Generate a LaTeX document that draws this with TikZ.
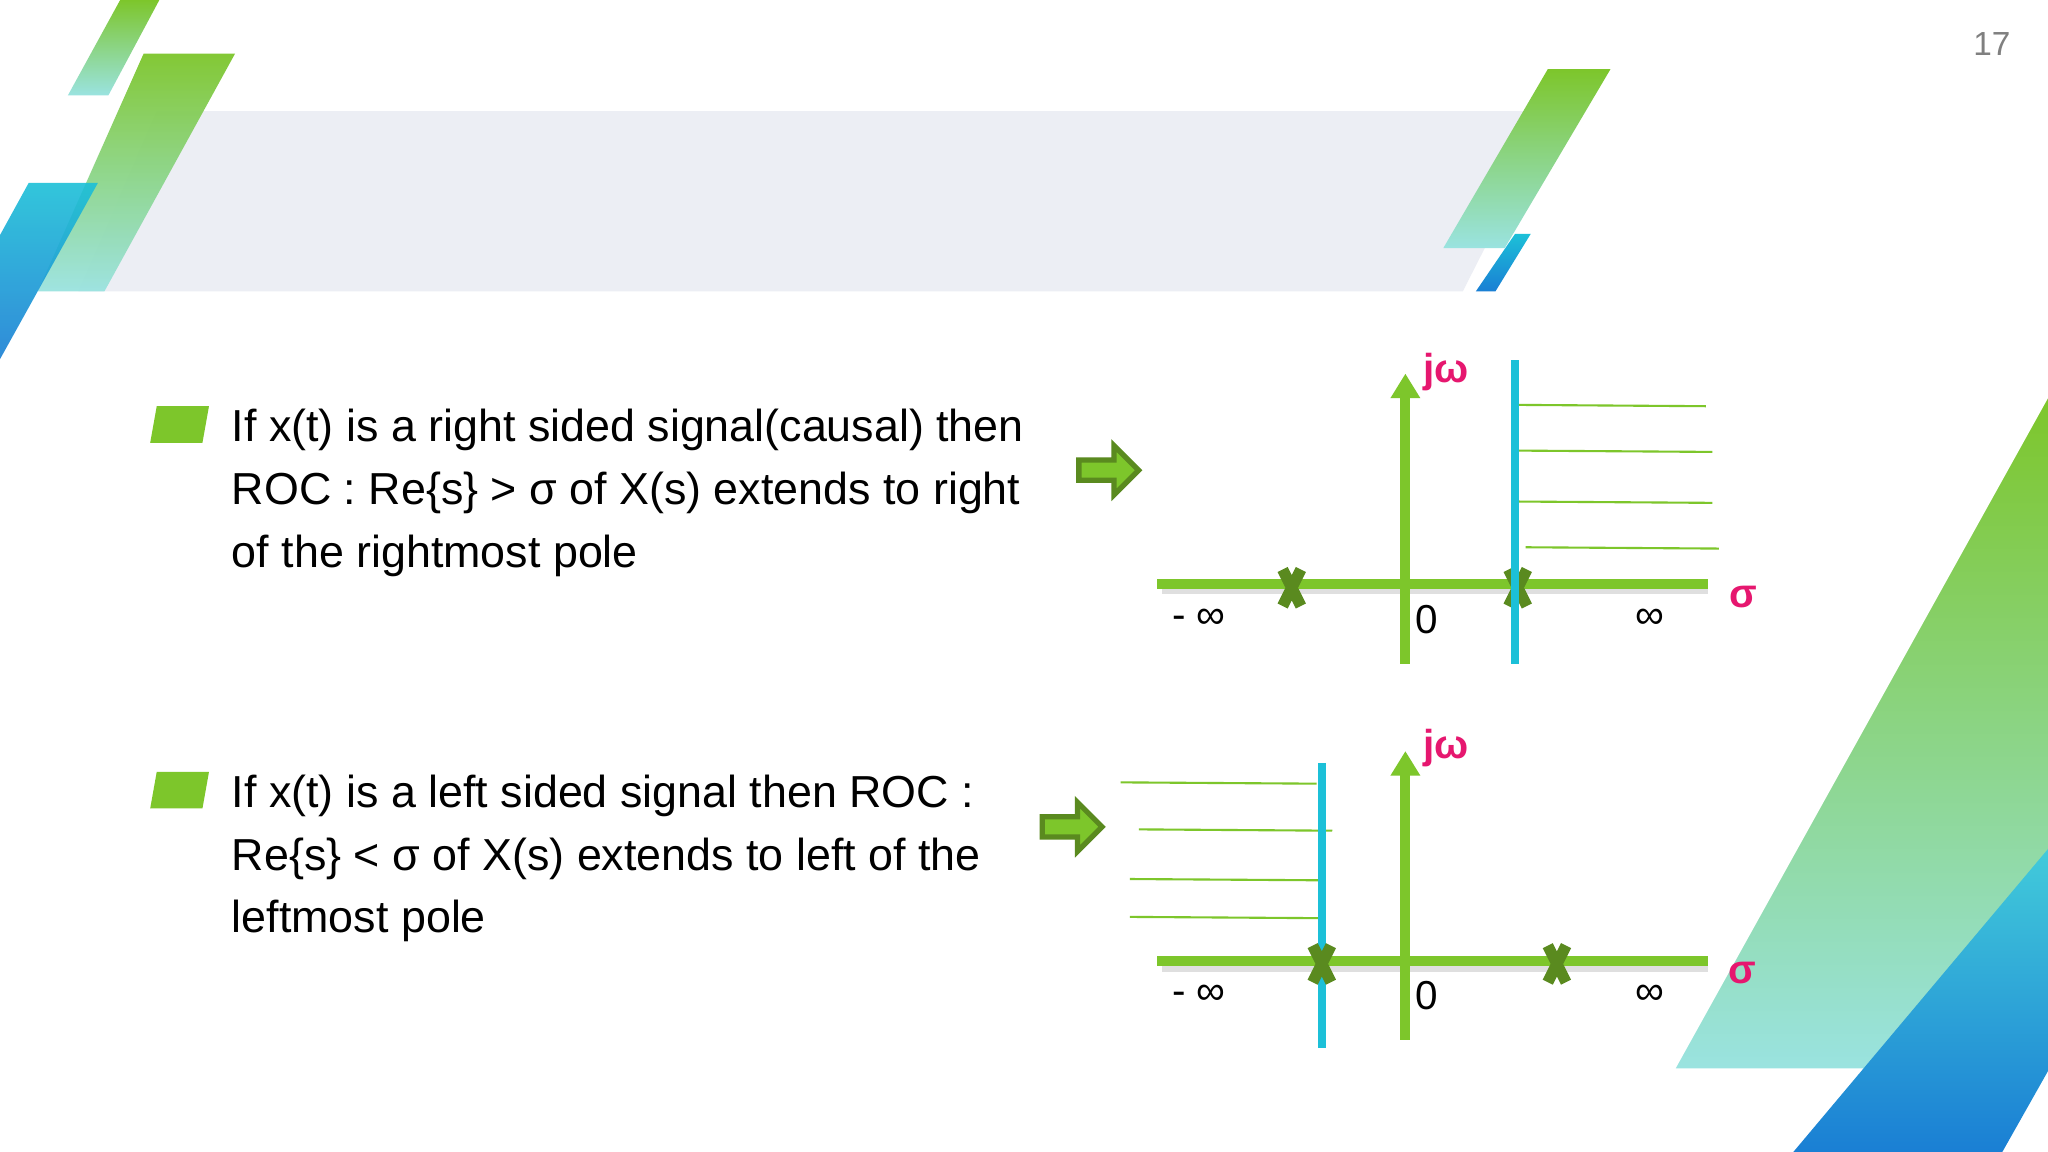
\documentclass[tikz,border=0pt]{standalone}
\usepackage{fontspec}
\setmainfont{Liberation Sans}
\usetikzlibrary{arrows.meta,shapes.arrows}
\definecolor{lg}{HTML}{7DC62B}
\definecolor{dg}{HTML}{5A8A1F}
\definecolor{cy}{HTML}{1CC0D8}
\definecolor{pk}{HTML}{E6176F}
\definecolor{teal}{HTML}{9AE3E0}
\definecolor{bl}{HTML}{1A7FD4}
\definecolor{band}{HTML}{ECEEF4}
\tikzset{
 axis/.style={lg,line width=2.8pt},
 roc/.style={cy,line width=2.3pt},
 hatch/.style={lg,line width=0.6pt},
 polemark/.style={dg,line width=3.2pt},
 lbl/.style={font=\fontsize{11.5}{13}\selectfont},
 pinklbl/.style={pk,font=\fontsize{11.5}{13}\selectfont\bfseries},
 body/.style={align=left,anchor=north west,inner sep=0pt,font=\fontsize{12.75}{17.8}\selectfont},
 bullet/.style={lg},
 blk/.style={single arrow,draw=dg,fill=lg,line width=1.5pt,minimum height=17pt,minimum width=14pt,single arrow head extend=2.5pt,inner sep=1pt}
}
\begin{document}
\begin{tikzpicture}[x=0.013061cm,y=-0.013061cm]
\useasboundingbox (0,0) rectangle (1568,882);
\fill[white] (0,0) rectangle (1568,882);
% band
\fill[band] (120,85) -- (1190,85) -- (1120,223) -- (60,223) -- cycle;
% top-left shapes
\shade[top color=lg,bottom color=teal] (92,0) -- (122,0) -- (83,73) -- (52,73) -- cycle;
\shade[top color=lg,bottom color=teal,opacity=0.95] (110,41) -- (180,41) -- (80,223) -- (29,223) -- cycle;
\shade[top color=cy,bottom color=bl,opacity=0.9] (22,140) -- (75,140) -- (0,275) -- (0,180) -- cycle;
% top-right shapes
\shade[top color=lg,bottom color=teal] (1185,53) -- (1233,53) -- (1152,190) -- (1105,190) -- cycle;
\shade[top color=cy,bottom color=bl] (1160,179) -- (1172,179) -- (1145,223) -- (1130,223) -- cycle;
% bottom-right shapes
\shade[top color=lg,bottom color=teal] (1568,305) -- (1568,680) -- (1490,818) -- (1283,818) -- cycle;
\shade[top color=cy!70!teal,bottom color=bl] (1568,650) -- (1568,820) -- (1533,882) -- (1373,882) -- cycle;
% page number
\node[text=gray,font=\fontsize{9.5}{11}\selectfont] (pg) at (1525,34) {17};
% bullets
\fill[bullet] (120,311) -- (160,311) -- (155,339) -- (115,339) -- cycle;
\fill[bullet] (120,591) -- (160,591) -- (155,619) -- (115,619) -- cycle;
\node[body] (t1) at (177,313) {If x(t) is a right sided signal(causal) then\\ROC : Re\{s\} > σ of X(s) extends to right\\of the rightmost pole};
\node[body] (t2) at (177,593) {If x(t) is a left sided signal then ROC :\\Re\{s\} < σ of X(s) extends to left of the\\leftmost pole};
\node[blk] (a1) at (845,360) {};
\node[blk] (a2) at (817,633) {};
% ---------- diagram 1
\coordinate (h1l) at (886,447); \coordinate (h1r) at (1308,447);
\coordinate (v1b) at (1076,508); \coordinate (v1t) at (1076,286);
\draw[gray!25,line width=3pt] (890,451) -- (1308,451);
\draw[axis] (h1l) -- (h1r);
\draw[axis,-{Triangle[length=7pt,width=8pt]}] (v1b) -- (v1t);
\coordinate (r1t) at (1160,276); \coordinate (r1b) at (1160,508);
\foreach \y/\xa/\xb in {310/1163/1306,345/1163/1311,384/1163/1311,419/1168/1316}
  \draw[hatch] (\xa,\y) -- (\xb,\y+1);
\draw[polemark] (982,436) -- (996,464) (996,436) -- (982,464);
\draw[polemark] (1155,436) -- (1169,464) (1169,436) -- (1155,464);
\draw[roc] (r1t) -- (r1b);
\node[pinklbl] (jw1) at (1107,285) {jω};
\node[pinklbl] (s1) at (1335,457) {σ};
\node[lbl] (m1) at (918,474) {- ∞};
\node[lbl] (z1) at (1092,474) {0};
\node[lbl] (p1) at (1263,474) {∞};
% ---------- diagram 2
\coordinate (h2l) at (886,736); \coordinate (h2r) at (1308,736);
\coordinate (v2b) at (1076,796); \coordinate (v2t) at (1076,575);
\draw[gray!25,line width=3pt] (890,740) -- (1308,740);
\draw[axis] (h2l) -- (h2r);
\draw[axis,-{Triangle[length=7pt,width=8pt]}] (v2b) -- (v2t);
\coordinate (r2t) at (1012,584); \coordinate (r2b) at (1012,802);
\foreach \y/\xa/\xb in {599/858/1008,635/872/1020,673/865/1015,702/865/1015}
  \draw[hatch] (\xa,\y) -- (\xb,\y+1);
\draw[roc] (r2t) -- (r2b);
\draw[polemark] (1005,724) -- (1019,752) (1019,724) -- (1005,752);
\draw[polemark] (1185,724) -- (1199,752) (1199,724) -- (1185,752);
\node[pinklbl] (jw2) at (1107,573) {jω};
\node[pinklbl] (s2) at (1334,745) {σ};
\node[lbl] (m2) at (918,762) {- ∞};
\node[lbl] (z2) at (1092,762) {0};
\node[lbl] (p2) at (1263,762) {∞};
\end{tikzpicture}
\end{document}
